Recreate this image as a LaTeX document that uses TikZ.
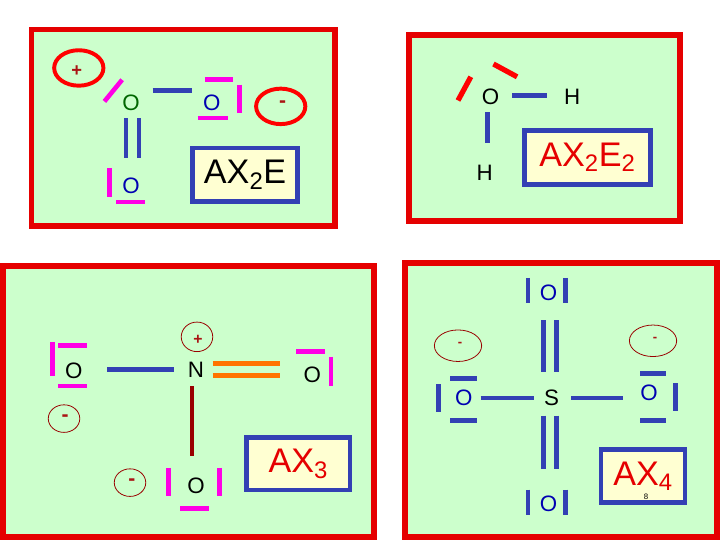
\documentclass[tikz,border=0pt]{standalone}
\usepackage{fontspec}
\setmainfont{Liberation Sans}
\begin{document}
\begin{tikzpicture}[x=0.75pt,y=-0.75pt,
  panel/.style={draw=red!90!black,line width=4.5pt,fill=green!20},
  lab/.style={draw={rgb,255:red,51;green,64;blue,180},line width=3.5pt,fill={rgb,255:red,255;green,255;blue,210},inner sep=0pt,anchor=north west},
  atom/.style={font=\fontsize{17pt}{17pt}\selectfont,inner sep=1pt},
  pk/.style={draw={rgb,255:red,255;green,0;blue,230},line width=3.5pt},
  bl/.style={draw={rgb,255:red,51;green,64;blue,180},line width=3.5pt},
  rb/.style={draw=red,line width=4pt},
  chg/.style={draw=red!60!black,line width=0.6pt},
  big/.style={font=\fontsize{26pt}{26pt}\selectfont}]
\definecolor{dred}{RGB}{170,20,20}
\fill[white] (0,0) rectangle (720,540);
% panel 1
\draw[panel] (29,30) rectangle (337,229);
\draw[draw=red,line width=3pt] (77,69) ellipse [x radius=25,y radius=18];
\node[text=dred,font=\bfseries\fontsize{14pt}{14pt}\selectfont] (p1) at (75,72) {+};
\draw[pk] (103,103) -- (121,81);
\node[atom,text=green!40!black] (o1) at (130,104) {O};
\draw[bl] (152,92) -- (192,92);
\node[atom,text=blue!70!black] (o2) at (212,104) {O};
\draw[pk] (205,81) -- (234,81) (240,86) -- (240,115) (198,120) -- (228,120);
\draw[draw=red,line width=3pt] (282,108) ellipse [x radius=25,y radius=18];
\node[text=dred,font=\bfseries\fontsize{16pt}{16pt}\selectfont] (m1) at (284,106) {-};
\draw[bl] (125,120) -- (125,160) (138,120) -- (138,160);
\node[atom,text=blue!70!black] (o3) at (130,189) {O};
\draw[pk] (108,171) -- (108,200) (115,205) -- (144,205);
\node[lab,minimum width=107*0.75pt,minimum height=54*0.75pt] (b1) at (190,148) {};
\node[big] (t1) at (b1.center) {AX\textsubscript{2}E};
% panel 2
\draw[panel] (412,36) rectangle (687,224);
\node[atom] (o4) at (495,98) {O};
\draw[rb] (462,102) -- (475,78) (498,65) -- (522,78);
\draw[bl] (517,97) -- (552,97);
\node[atom] (h1) at (578,98) {H};
\draw[bl] (492,114) -- (492,145);
\node[atom] (h2) at (489,175) {H};
\node[lab,minimum width=128*0.75pt,minimum height=55*0.75pt] (b2) at (527,130) {};
\node[big,text=red!90!black] (t2) at (b2.center) {AX\textsubscript{2}E\textsubscript{2}};
% panel 3
\draw[panel] (0,270) rectangle (377,545);
\node[atom] (o5) at (72,376) {O};
\draw[pk] (56,351) -- (85,351) (50,347) -- (50,382) (56,392) -- (85,392);
\draw[chg] (62,425) ellipse [x radius=16,y radius=14];
\node[text=dred,font=\bfseries\fontsize{16pt}{16pt}\selectfont] (m2) at (63,425) {-};
\draw[bl] (106,375) -- (174,375);
\node[atom] (n1) at (196,375) {N};
\draw[chg] (197,342) ellipse [x radius=16,y radius=15];
\node[text=dred,font=\bfseries\fontsize{12pt}{12pt}\selectfont] (p2) at (198,345) {+};
\draw[draw=orange!90!red,line width=4pt] (213,369) -- (281,369) (213,381) -- (281,381);
\node[atom] (o6) at (314,381) {O};
\draw[pk] (298,357) -- (327,357) (333,362) -- (333,392);
\draw[draw=red!60!black,line width=3.5pt] (192,392) -- (192,463);
\node[atom] (o7) at (196,493) {O};
\draw[pk] (168,475) -- (168,504) (220,475) -- (220,504) (180,516) -- (209,516);
\draw[chg] (129,490) ellipse [x radius=16,y radius=14];
\node[text=dred,font=\bfseries\fontsize{16pt}{16pt}\selectfont] (m3) at (131,490) {-};
\node[lab,minimum width=105*0.75pt,minimum height=53*0.75pt] (b3) at (245,442) {};
\node[big,text=red!90!black] (t3) at (b3.center) {AX\textsubscript{3}};
% panel 4
\draw[panel] (408,267) rectangle (725,545);
\node[atom,text=blue!70!black] (o8) at (554,297) {O};
\draw[bl] (533,282) -- (533,308) (571,282) -- (571,308);
\draw[bl] (549,325) -- (549,378) (562,325) -- (562,378);
\node[atom] (s1) at (557,404) {S};
\node[atom,text=blue!70!black] (o9) at (468,404) {O};
\draw[bl] (454,384) -- (481,384) (454,427) -- (481,427) (442,390) -- (442,418);
\draw[bl] (485,404) -- (539,404) (577,404) -- (630,404);
\node[atom,text=blue!70!black] (o10) at (656,399) {O};
\draw[bl] (647,379) -- (673,379) (647,427) -- (673,427) (683,389) -- (683,417);
\draw[bl] (549,422) -- (549,476) (562,422) -- (562,476);
\node[atom,text=blue!70!black] (o11) at (554,512) {O};
\draw[bl] (533,497) -- (533,523) (571,497) -- (571,523);
\draw[chg] (462,351) ellipse [x radius=24,y radius=16];
\node[text=dred,font=\bfseries\fontsize{10pt}{10pt}\selectfont] (m4) at (464,350) {-};
\draw[chg] (660,346) ellipse [x radius=24,y radius=16];
\node[text=dred,font=\bfseries\fontsize{10pt}{10pt}\selectfont] (m5) at (662,345) {-};
\node[lab,minimum width=85*0.75pt,minimum height=54*0.75pt] (b4) at (605,454) {};
\node[big,text=red!90!black] (t4) at (b4.center) {AX\textsubscript{4}};
\node[font=\fontsize{6pt}{6pt}\selectfont] (pg) at (653,504) {8};
\end{tikzpicture}
\end{document}
